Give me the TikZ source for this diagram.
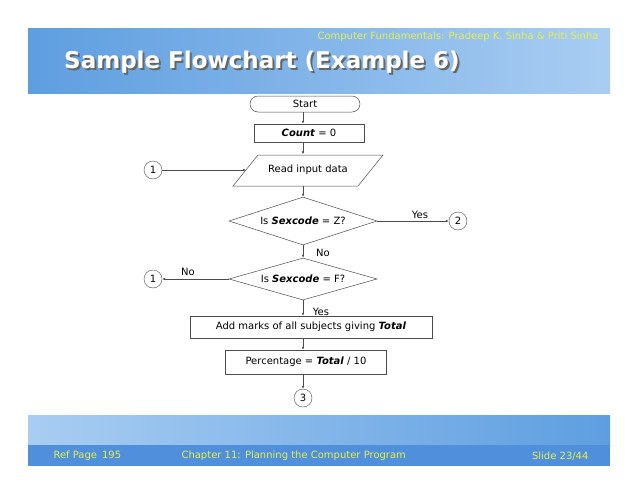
\documentclass[tikz,border=0pt]{standalone}
\usepackage{fontspec}
\setmainfont{DejaVu Sans}
\usetikzlibrary{shapes.geometric,arrows.meta}
\definecolor{bandA}{HTML}{5E9EE0}
\definecolor{bandB}{HTML}{A9CDF2}
\definecolor{footbar}{HTML}{4F8FDB}
\definecolor{ytext}{HTML}{E4F050}
\begin{document}
\begin{tikzpicture}[x=1pt,y=-1pt,
  box/.style={draw=black!70,line width=0.5pt,minimum height=18pt,font=\fontsize{10}{11}\selectfont},
  dia/.style={draw=black!70,diamond,aspect=3.5,line width=0.5pt,inner sep=0pt,font=\fontsize{10}{11}\selectfont},
  conn/.style={draw=black!70,circle,minimum size=18pt,inner sep=0pt,font=\fontsize{10}{11}\selectfont},
  lab/.style={font=\fontsize{10}{11}\selectfont},
  arr/.style={draw=black!70,line width=0.5pt,-{Latex[length=3pt,width=2.5pt]}},
  foot/.style={text=ytext,font=\fontsize{10}{11}\selectfont}]
\useasboundingbox (0,0) rectangle (638,493);
\fill[white] (0,0) rectangle (638,493);
% header
\shade[left color=bandA,right color=bandB] (28,28) rectangle (610,93);
\node[anchor=east,text=ytext,font=\fontsize{10}{11}\selectfont] (sub) at (602,37) {Computer Fundamentals: Pradeep K. Sinha \& Priti Sinha};
\node[anchor=west,text=black!60,font=\bfseries\fontsize{23}{26}\selectfont,inner sep=0pt] (tshadow) at (66,64) {Sample Flowchart (Example 6)};
\node[anchor=west,text=white,font=\bfseries\fontsize{23}{26}\selectfont,inner sep=0pt] (title) at (64,62) {Sample Flowchart (Example 6)};
% footer
\shade[left color=bandB,right color=bandA] (28,415) rectangle (610,445);
\fill[footbar] (28,445) rectangle (610,466);
\node[foot,anchor=west] (ref) at (50,456) {Ref Page\enspace 195};
\node[foot,anchor=west] (chap) at (178,456) {Chapter 11: Planning the Computer Program};
\node[foot,anchor=east] (slide) at (592,456) {Slide 23/44};
% flowchart
\node[box,rounded corners=8pt,minimum width=110pt,minimum height=16pt] (start) at (305,104) {Start};
\node[box,minimum width=110pt] (count) at (309,133) {\textbf{\textit{Count}} = 0};
\draw[draw=black!70,line width=0.5pt] (258,155) -- (383,155) -- (358,186) -- (233,186) -- cycle;
\node[lab,minimum width=150pt,minimum height=31pt] (read) at (308,170) {Read input data};
\coordinate (readin) at (246,170);
\node[conn] (c1a) at (153,170) {1};
\node[dia,minimum width=148pt,minimum height=48pt] (d1) at (303,221) {Is \textbf{\textit{Sexcode}} = Z?};
\node[conn] (c2) at (458,221) {2};
\node[dia,minimum width=148pt,minimum height=42pt] (d2) at (303,279) {Is \textbf{\textit{Sexcode}} = F?};
\node[conn] (c1b) at (153,279) {1};
\node[box,minimum width=242pt,minimum height=22pt] (add) at (311,327) {Add marks of all subjects giving \textbf{\textit{Total}}};
\node[box,minimum width=161pt,minimum height=24pt] (pct) at (306,362) {Percentage = \textbf{\textit{Total}} / 10};
\node[conn] (c3) at (303,398) {3};
\node[lab] (yes1) at (420,215) {Yes};
\node[lab] (no1) at (323,253) {No};
\node[lab] (no2) at (188,272) {No};
\node[lab] (yes2) at (321,312) {Yes};
% connectors
\draw[arr] (start.south -| 303,0) -- (count.north -| 303,0);
\draw[arr] (count.south -| 303,0) -- (read.north -| 303,0);
\draw[arr] (c1a) -- (readin);
\draw[arr] (read.south -| 303,0) -- (d1.north);
\draw[arr] (d1.east) -- (c2);
\draw[arr] (d1.south) -- (d2.north);
\draw[arr] (d2.west) -- (c1b);
\draw[arr] (d2.south) -- (add.north -| 303,0);
\draw[arr] (add.south -| 303,0) -- (pct.north -| 303,0);
\draw[arr] (pct.south -| 303,0) -- (c3);
\end{tikzpicture}
\end{document}
